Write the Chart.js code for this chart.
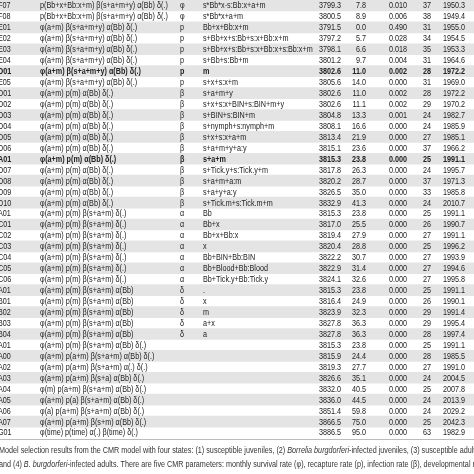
<!DOCTYPE html>
<html><head><meta charset="utf-8">
<script src="https://cdn.jsdelivr.net/npm/chart.js@4"></script>
<style>html,body{margin:0;padding:0;background:#fff}#w{width:474px;height:474px}</style>
</head><body><div id="w"><canvas id="c"></canvas></div>
<script>
const ids=["F07","F08","E01","E02","E03","E04","D01","E05","D01","D02","D03","D04","D05","D06","A01","D07","D08","D09","D10","A01","C01","C02","C03","C04","C05","C06","A01","B01","B02","B03","B04","A01","A00","A02","A03","A04","A05","A06","A07","G01"];
const M1="p(Bb+x+Bb:x+m) β(s+a+m+y) α(Bb) δ(.)",M2="φ(a+m) β(s+a+m+y) α(Bb) δ(.)",M3="φ(a+m) p(m) α(Bb) δ(.)",M4="φ(a+m) p(m) β(s+a+m) δ(.)",M5="φ(a+m) p(m) β(s+a+m) α(Bb)";
const models=[M1,M1,M2,M2,M2,M2,M2,M2,M3,M3,M3,M3,M3,M3,M3,M3,M3,M3,M3,M4,M4,M4,M4,M4,M4,M4,M5,M5,M5,M5,M5,
"φ(a+m) p(m) β(s+a+m) α(Bb) δ(.)","φ(a+m) p(a+m) β(s+a+m) α(Bb) δ(.)","φ(a+m) p(a+m) β(s+a+m) α(.) δ(.)","φ(a+m) p(a+m) β(s+a) α(Bb) δ(.)","φ(m) p(a+m) β(s+a+m) α(Bb) δ(.)","φ(a+m) p(a) β(s+a+m) α(Bb) δ(.)","φ(a) p(a+m) β(s+a+m) α(Bb) δ(.)","φ(a+m) p(a+m) β(s+m) α(Bb) δ(.)","φ(time) p(time) α(.) β(time) δ(.)"];
const params=["φ","φ","p","p","p","p","p","p","β","β","β","β","β","β","β","β","β","β","β","α","α","α","α","α","α","α","δ","δ","δ","δ","δ","","","","","","","","",""];
const factors=["s*Bb*x-s:Bb:x+a+m","s*Bb*x+a+m","Bb+x+Bb:x+m","s+Bb+x+s:Bb+s:x+Bb:x+m","s+Bb+x+s:Bb+s:x+Bb:x+s:Bb:x+m","s+Bb+s:Bb+m","m","s+x+s:x+m","s+a+m+y","s+x+s:x+BIN+s:BIN+m+y","s+BIN+s:BIN+m","s+nymph+s:nymph+m","s+x+s:x+a+m","s+a+m+y+a:y","s+a+m","s+Tick.y+s:Tick.y+m","s+a+m+a:m","s+a+y+a:y","s+Tick.m+s:Tick.m+m","Bb","Bb+x","Bb+x+Bb:x","x","Bb+BIN+Bb:BIN","Bb+Blood+Bb:Blood","Bb+Tick.y+Bb:Tick.y",".","x","m","a+x","a","","","","","","","","",""];
const aic=["3799.3","3800.5","3791.5","3797.2","3798.1","3801.2","3802.6","3805.6","3802.6","3802.6","3804.8","3808.1","3813.4","3815.1","3815.3","3817.8","3820.2","3826.5","3832.9","3815.3","3817.0","3819.4","3820.4","3822.2","3822.9","3824.1","3815.3","3816.4","3823.9","3827.8","3827.8","3815.3","3815.9","3819.3","3826.6","3832.0","3836.0","3851.4","3866.5","3886.5"];
const dAic=["7.8","8.9","0.0","5.7","6.6","9.7","11.0","14.0","11.0","11.1","13.3","16.6","21.9","23.6","23.8","26.3","28.7","35.0","41.3","23.8","25.5","27.9","28.8","30.7","31.4","32.6","23.8","24.9","32.3","36.3","36.3","23.8","24.4","27.7","35.1","40.5","44.5","59.8","75.0","95.0"];
const weight=["0.010","0.006","0.490","0.028","0.018","0.004","0.002","0.000","0.002","0.002","0.001","0.000","0.000","0.000","0.000","0.000","0.000","0.000","0.000","0.000","0.000","0.000","0.000","0.000","0.000","0.000","0.000","0.000","0.000","0.000","0.000","0.000","0.000","0.000","0.000","0.000","0.000","0.000","0.000","0.000"];
const npar=["37","38","31","34","35","31","28","31","28","29","24","24","27","37","25","24","37","33","24","25","26","27","25","27","27","27","25","26","29","29","28","25","28","27","24","25","24","24","25","63"];
const dev=["1950.3","1949.4","1955.0","1954.5","1953.3","1964.6","1972.2","1969.0","1972.2","1970.2","1982.7","1985.9","1985.1","1966.2","1991.1","1995.7","1971.3","1985.8","2010.7","1991.1","1990.7","1991.1","1996.2","1993.9","1994.6","1995.8","1991.1","1990.1","1991.4","1995.4","1997.4","1991.1","1985.5","1991.0","2004.5","2007.8","2013.9","2029.2","2042.3","1982.9"];
const boldRows=[6,14];
const caption=[
 [["Model selection results from the CMR model with four states: (1) susceptible juveniles, (2) ",""],["Borrelia burgdorferi","i"],["-infected juveniles, (3) susceptible adults,",""]],
 [["and (4) ",""],["B. burgdorferi","i"],["-infected adults. There are five CMR parameters: monthly survival rate (φ), recapture rate (p), infection rate (β), developmental rate",""]],
 [["(ψ), and delta transition rate (δ). Explanatory factors include: ",""],["B. burgdorferi","i"],[" infection status (Bh), stage (s), sex (x), area (a), month (m), year (y), monthly",""]]
];
const stripe=ids.map((_,i)=>i%2===0?[0,474]:null);
const F="'Liberation Sans', Arial, sans-serif";
const SX=0.82;
function txt(c,t,x,y,align){c.save();c.translate(x,y);c.scale(SX,1);c.textAlign=align;c.fillText(t,0,0);c.restore();}
const textPlugin={id:'txt',afterDatasetsDraw(ch){
 const c=ch.ctx,ys=ch.scales.y,xs=ch.scales.x;
 c.save();c.textBaseline='middle';c.fillStyle='#222';
 ids.forEach((id,i)=>{
  const y=ys.getPixelForValue(i)+0.5;
  c.font=(boldRows.includes(i)?'bold ':'')+'8.8px '+F;
  txt(c,id,xs.getPixelForValue(-2),y,'left');
  txt(c,models[i],xs.getPixelForValue(40),y,'left');
  txt(c,params[i],xs.getPixelForValue(180),y,'left');
  txt(c,factors[i],xs.getPixelForValue(203),y,'left');
  txt(c,aic[i],xs.getPixelForValue(341),y,'right');
  txt(c,dAic[i],xs.getPixelForValue(366),y,'right');
  txt(c,weight[i],xs.getPixelForValue(407),y,'right');
  txt(c,npar[i],xs.getPixelForValue(431),y,'right');
  txt(c,dev[i],xs.getPixelForValue(465),y,'right');
 });
 c.strokeStyle='#bbb';c.lineWidth=1;c.beginPath();c.moveTo(0,ch.chartArea.bottom+1.5);c.lineTo(474,ch.chartArea.bottom+1.5);c.stroke();
 c.fillStyle='#333';
 caption.forEach((line,k)=>{let x=-1;const y=ch.chartArea.bottom+13+k*14;
  line.forEach(([t,s])=>{c.font=(s?'italic ':'')+'8.8px '+F;txt(c,t,x,y,'left');x+=c.measureText(t).width*SX;});});
 c.restore();}};
new Chart(document.getElementById('c'),{type:'bar',
 data:{labels:ids.map((d,i)=>i),datasets:[{data:stripe,backgroundColor:'#e4e4e4',barPercentage:1,categoryPercentage:1,borderWidth:0}]},
 options:{indexAxis:'y',responsive:true,maintainAspectRatio:false,animation:false,
  layout:{padding:{top:0,left:0,right:0,bottom:36}},
  plugins:{legend:{display:false},tooltip:{enabled:false}},
  scales:{x:{type:'linear',min:0,max:474,display:false},y:{type:'category',display:false,offset:true}}},
 plugins:[textPlugin]});
</script></body></html>
